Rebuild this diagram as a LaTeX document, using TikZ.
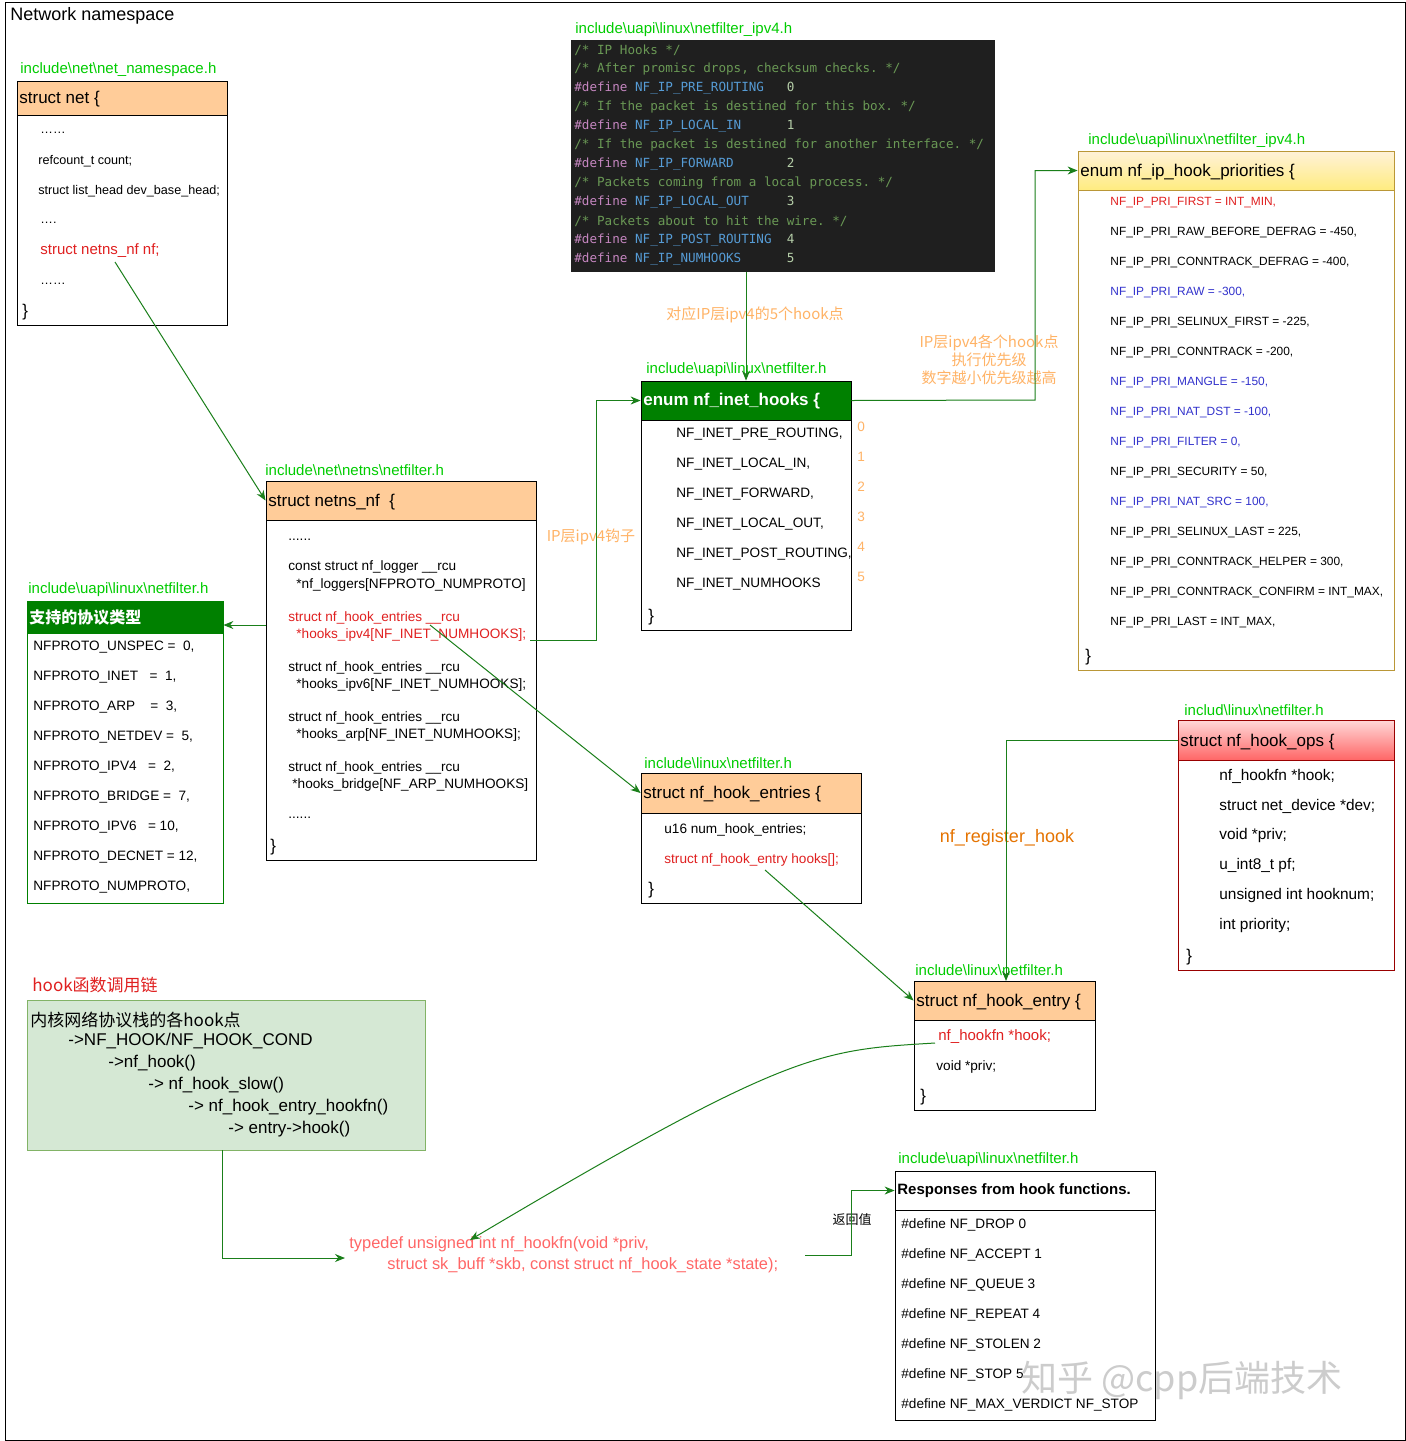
\documentclass[tikz,border=0pt]{standalone}
\usepackage{fontspec}
\setmainfont{Liberation Sans}
\setmonofont{DejaVu Sans Mono}
\newfontfamily\cjk{Noto Sans CJK SC}
\usetikzlibrary{fit,arrows.meta}
\definecolor{lbl}{HTML}{00CC00}
\definecolor{hdr}{HTML}{FFCC99}
\definecolor{gr}{HTML}{008000}
\definecolor{ln}{HTML}{1A7F1A}
\definecolor{org}{HTML}{FFB366}
\definecolor{rd}{HTML}{E02020}
\definecolor{bl}{HTML}{3333CC}
\definecolor{cmt}{HTML}{6A9955}
\definecolor{dfn}{HTML}{C586C0}
\definecolor{nm}{HTML}{569CD6}
\definecolor{num}{HTML}{B5CEA8}
\definecolor{chainfill}{HTML}{D5E8D4}
\definecolor{chainline}{HTML}{82B366}
\newcommand\bx[6]{\path (#2,#3) coordinate (#1a) (#4,#5) coordinate (#1b); \node[fit=(#1a)(#1b),inner sep=0pt,#6] (#1) {};}
\tikzset{
 lab/.style={anchor=west,inner sep=0pt,text=lbl,font=\fontsize{7.5}{8}\selectfont},
 t/.style={anchor=west,inner sep=0pt,font=\fontsize{6.8}{7}\selectfont},
 ht/.style={anchor=west,inner sep=0pt,font=\fontsize{8.5}{9}\selectfont},
 cd/.style={anchor=west,inner sep=0pt,font=\ttfamily\fontsize{6.3}{6.5}\selectfont},
 conn/.style={draw=ln,-{Stealth[length=5pt,width=4pt]},line width=0.5pt},
 bodybox/.style={draw,fill=white,line width=0.5pt},
}
\begin{document}
\begin{tikzpicture}[x=0.5pt,y=-0.5pt]
\useasboundingbox (0,0) rectangle (1406,1441);
\fill[white] (0,0) rectangle (1406,1441);
\draw[line width=0.5pt] (5,2) rectangle (1405,1440);
\node[anchor=west,inner sep=0pt,font=\fontsize{9}{10}\selectfont] (title) at (10,16) {Network namespace};

% struct net
\node[lab] (l1) at (20,70) {include\textbackslash net\textbackslash net\_namespace.h};
\bx{netb}{17}{115}{227}{325}{bodybox}
\bx{neth}{17}{81}{227}{115}{draw,fill=hdr,line width=0.5pt}
\node[ht] (neth t) at (19,99) {struct net \{};
\node[t,font=\fontsize{6.3}{7}\selectfont] (n1) at (40,133) {……};
\node[t,font=\fontsize{6.3}{7}\selectfont] (n2) at (38,161) {refcount\_t count;};
\node[t,font=\fontsize{6.3}{7}\selectfont] (n3) at (38,191) {struct list\_head dev\_base\_head;};
\node[t,font=\fontsize{6.3}{7}\selectfont] (n4) at (40,223) {….};
\node[t,text=rd,font=\fontsize{7.5}{8}\selectfont] (n5) at (40,251) {struct netns\_nf nf;};
\node[t,font=\fontsize{6.3}{7}\selectfont] (n6) at (40,284) {……};
\node[ht] (n7) at (22,312) {\}};

% netns_nf
\node[lab] (l2) at (265,470) {include\textbackslash net\textbackslash netns\textbackslash netfilter.h};
\bx{nnb}{266}{520}{536}{860}{bodybox}
\bx{nnh}{266}{481}{536}{520}{draw,fill=hdr,line width=0.5pt}
\node[ht] (nnh t) at (268,502) {struct netns\_nf \ \{};
\node[t] (m1) at (288,540) {......};
\node[t] (m2) at (288,567) {const struct nf\_logger \_\_rcu};
\node[t] (m3) at (296,585) {*nf\_loggers[NFPROTO\_NUMPROTO]};
\node[t,text=rd] (m4) at (288,618) {struct nf\_hook\_entries \_\_rcu};
\node[t,text=rd] (m5) at (296,635) {*hooks\_ipv4[NF\_INET\_NUMHOOKS];};
\node[t] (m6) at (288,668) {struct nf\_hook\_entries \_\_rcu};
\node[t] (m7) at (296,685) {*hooks\_ipv6[NF\_INET\_NUMHOOKS];};
\node[t] (m8) at (288,718) {struct nf\_hook\_entries \_\_rcu};
\node[t] (m9) at (296,735) {*hooks\_arp[NF\_INET\_NUMHOOKS];};
\node[t] (m10) at (288,768) {struct nf\_hook\_entries \_\_rcu};
\node[t] (m11) at (292,785) {*hooks\_bridge[NF\_ARP\_NUMHOOKS]};
\node[t] (m12) at (288,818) {......};
\node[ht] (m13) at (270,847) {\}};

% protocols
\node[lab] (l3) at (28,590) {include\textbackslash uapi\textbackslash linux\textbackslash netfilter.h};
\bx{pb}{27}{633}{223}{903}{bodybox,draw=gr}
\bx{ph}{27}{601}{223}{633}{draw=gr,fill=gr}
\node[ht,text=white,font=\cjk\bfseries\fontsize{8}{9}\selectfont] (ph t) at (29,618) {支持的协议类型};
\foreach \s [count=\i] in {{NFPROTO\_UNSPEC = \ 0,},{NFPROTO\_INET \ \ = \ 1,},{NFPROTO\_ARP \ \ \ = \ 3,},{NFPROTO\_NETDEV = \ 5,},{NFPROTO\_IPV4 \ \ = \ 2,},{NFPROTO\_BRIDGE = \ 7,},{NFPROTO\_IPV6 \ \ = 10,},{NFPROTO\_DECNET = 12,},{NFPROTO\_NUMPROTO,}}
  \node[t] (p\i) at (33,617+30*\i) {\s};

% code block
\node[lab] (l4) at (575,30) {include\textbackslash uapi\textbackslash linux\textbackslash netfilter\_ipv4.h};
\bx{code}{571}{40}{995}{272}{fill=black!88}
\node[cd,text=cmt] (c1) at (574,50) {/* IP Hooks */};
\node[cd,text=cmt] (c2) at (574,69) {/* After promisc drops, checksum checks. */};
\node[cd] (c3) at (574,88) {\textcolor{dfn}{\#define} \textcolor{nm}{NF\_IP\_PRE\_ROUTING} \ \ \textcolor{num}{0}};
\node[cd,text=cmt] (c4) at (574,107) {/* If the packet is destined for this box. */};
\node[cd] (c5) at (574,126) {\textcolor{dfn}{\#define} \textcolor{nm}{NF\_IP\_LOCAL\_IN} \ \ \ \ \ \textcolor{num}{1}};
\node[cd,text=cmt] (c6) at (574,145) {/* If the packet is destined for another interface. */};
\node[cd] (c7) at (574,164) {\textcolor{dfn}{\#define} \textcolor{nm}{NF\_IP\_FORWARD} \ \ \ \ \ \ \textcolor{num}{2}};
\node[cd,text=cmt] (c8) at (574,183) {/* Packets coming from a local process. */};
\node[cd] (c9) at (574,202) {\textcolor{dfn}{\#define} \textcolor{nm}{NF\_IP\_LOCAL\_OUT} \ \ \ \ \textcolor{num}{3}};
\node[cd,text=cmt] (c10) at (574,221) {/* Packets about to hit the wire. */};
\node[cd] (c11) at (574,240) {\textcolor{dfn}{\#define} \textcolor{nm}{NF\_IP\_POST\_ROUTING} \ \textcolor{num}{4}};
\node[cd] (c12) at (574,259) {\textcolor{dfn}{\#define} \textcolor{nm}{NF\_IP\_NUMHOOKS} \ \ \ \ \ \textcolor{num}{5}};

\node[inner sep=0pt,text=org,font=\cjk\fontsize{7.5}{8}\selectfont] (a1) at (755,315) {对应IP层ipv4的5个hook点};

% nf_inet_hooks
\node[lab] (l5) at (646,370) {include\textbackslash uapi\textbackslash linux\textbackslash netfilter.h};
\bx{ib}{641}{420}{851}{630}{bodybox}
\bx{ih}{641}{381}{851}{420}{draw,fill=gr}
\node[ht,text=white,font=\bfseries\fontsize{8.5}{9}\selectfont] (ih t) at (643,401) {enum nf\_inet\_hooks \{};
\foreach \s [count=\i] in {{NF\_INET\_PRE\_ROUTING,},{NF\_INET\_LOCAL\_IN,},{NF\_INET\_FORWARD,},{NF\_INET\_LOCAL\_OUT,},{NF\_INET\_POST\_ROUTING,},NF\_INET\_NUMHOOKS}
  \node[t] (i\i) at (676,404+30*\i) {\s};
\foreach \i in {0,...,5}
  \node[t,text=org] (in\i) at (857,427+30*\i) {\i};
\node[ht] (ie) at (648,617) {\}};

\node[inner sep=0pt,text=org,font=\cjk\fontsize{7.5}{8}\selectfont] (a2) at (591,537) {IP层ipv4钩子};

% priorities
\node[lab] (l6) at (1088,141) {include\textbackslash uapi\textbackslash linux\textbackslash netfilter\_ipv4.h};
\bx{prb}{1078}{190}{1394}{670}{bodybox,draw=yellow!50!orange!70!black}
\bx{prh}{1078}{151}{1394}{190}{draw=yellow!50!orange!70!black,top color=yellow!30!orange!15,bottom color=yellow!70!orange!50}
\node[ht] (prh t) at (1080,172) {enum nf\_ip\_hook\_priorities \{};
\foreach \s/\c [count=\i] in {{NF\_IP\_PRI\_FIRST = INT\_MIN,}/rd,{NF\_IP\_PRI\_RAW\_BEFORE\_DEFRAG = -450,}/black,{NF\_IP\_PRI\_CONNTRACK\_DEFRAG = -400,}/black,{NF\_IP\_PRI\_RAW = -300,}/bl,{NF\_IP\_PRI\_SELINUX\_FIRST = -225,}/black,{NF\_IP\_PRI\_CONNTRACK = -200,}/black,{NF\_IP\_PRI\_MANGLE = -150,}/bl,{NF\_IP\_PRI\_NAT\_DST = -100,}/bl,{NF\_IP\_PRI\_FILTER = 0,}/bl,{NF\_IP\_PRI\_SECURITY = 50,}/black,{NF\_IP\_PRI\_NAT\_SRC = 100,}/bl,{NF\_IP\_PRI\_SELINUX\_LAST = 225,}/black,{NF\_IP\_PRI\_CONNTRACK\_HELPER = 300,}/black,{NF\_IP\_PRI\_CONNTRACK\_CONFIRM = INT\_MAX,}/black,{NF\_IP\_PRI\_LAST = INT\_MAX,}/black}
  \node[t,text=\c,font=\fontsize{5.95}{6}\selectfont] (pr\i) at (1110,173+30*\i) {\s};
\node[ht] (pre) at (1085,657) {\}};

\node[align=center,inner sep=0pt,text=org,font=\cjk\fontsize{7.5}{9}\selectfont] (a3) at (989,360) {IP层ipv4各个hook点\\执行优先级\\数字越小优先级越高};

% nf_hook_entries
\node[lab] (l7) at (644,763) {include\textbackslash linux\textbackslash netfilter.h};
\bx{eb}{641}{813}{861}{903}{bodybox}
\bx{eh}{641}{773}{861}{813}{draw,fill=hdr}
\node[ht] (eh t) at (643,794) {struct nf\_hook\_entries \{};
\node[t] (e1) at (664,830) {u16 num\_hook\_entries;};
\node[t,text=rd] (e2) at (664,860) {struct nf\_hook\_entry hooks[];};
\node[ht] (e3) at (648,890) {\}};

% nf_hook_ops
\node[lab] (l8) at (1184,710) {includ\textbackslash linux\textbackslash netfilter.h};
\bx{ob}{1178}{760}{1394}{970}{bodybox,draw=red!60!black}
\bx{oh}{1178}{720}{1394}{760}{draw=red!60!black,top color=red!15,bottom color=red!60!white}
\node[ht] (oh t) at (1180,742) {struct nf\_hook\_ops \{};
\foreach \s [count=\i] in {nf\_hookfn *hook;,struct net\_device *dev;,void *priv;,u\_int8\_t pf;,unsigned int hooknum;,int priority;}
  \node[t,font=\fontsize{7.7}{8}\selectfont] (o\i) at (1219,746+30*\i) {\s};
\node[ht] (oe) at (1186,957) {\}};

\node[inner sep=0pt,text=orange!90!black,font=\fontsize{9}{10}\selectfont] (a4) at (1007,838) {nf\_register\_hook};

% nf_hook_entry
\node[lab] (l9) at (915,970) {include\textbackslash linux\textbackslash netfilter.h};
\bx{yb}{914}{1020}{1095}{1110}{bodybox}
\bx{yh}{914}{981}{1095}{1020}{draw,fill=hdr}
\node[ht] (yh t) at (916,1002) {struct nf\_hook\_entry \{};
\node[t,text=rd,font=\fontsize{7.5}{8}\selectfont] (y1) at (938,1037) {nf\_hookfn *hook;};
\node[t] (y2) at (936,1067) {void *priv;};
\node[ht] (y3) at (920,1097) {\}};

% hook chain
\node[anchor=west,inner sep=0pt,text=rd,font=\cjk\fontsize{8.5}{9}\selectfont] (l10) at (32,985) {hook函数调用链};
\bx{chain}{27}{1000}{425}{1150}{draw=chainline,fill=chainfill}
\node[ht,font=\cjk\fontsize{8.5}{9}\selectfont] (k1) at (30,1020) {内核网络协议栈的各hook点};
\node[ht] (k2) at (68,1041) {->NF\_HOOK/NF\_HOOK\_COND};
\node[ht] (k3) at (108,1063) {->nf\_hook()};
\node[ht] (k4) at (148,1085) {-> nf\_hook\_slow()};
\node[ht] (k5) at (188,1107) {-> nf\_hook\_entry\_hookfn()};
\node[ht] (k6) at (228,1129) {-> entry->hook()};

% typedef
\node[anchor=north west,inner sep=0pt,align=left,text=red!60!white,font=\fontsize{8.2}{10.5}\selectfont] (td) at (349,1236) {typedef unsigned int nf\_hookfn(void *priv,\\\hspace{19pt}struct sk\_buff *skb, const struct nf\_hook\_state *state);};
\coordinate (tdl) at (345,1258);
\coordinate (tdr) at (805,1255);
\coordinate (tdt) at (470,1240);

% responses
\node[lab] (l11) at (898,1160) {include\textbackslash uapi\textbackslash linux\textbackslash netfilter.h};
\bx{rb}{895}{1210}{1155}{1420}{bodybox}
\bx{rh}{895}{1171}{1155}{1210}{draw,fill=white}
\node[ht,font=\bfseries\fontsize{7.5}{8}\selectfont] (rh t) at (897,1191) {Responses from hook functions.};
\foreach \s [count=\i] in {\#define NF\_DROP 0,\#define NF\_ACCEPT 1,\#define NF\_QUEUE 3,\#define NF\_REPEAT 4,\#define NF\_STOLEN 2,\#define NF\_STOP 5,\#define NF\_MAX\_VERDICT NF\_STOP}
  \node[t] (r\i) at (901,1195+30*\i) {\s};
\node[inner sep=0pt,font=\cjk\fontsize{6.5}{7}\selectfont] (a5) at (852,1220) {返回值};

\node[inner sep=0pt,text=gray!40,font=\cjk\fontsize{18}{20}\selectfont] (wm) at (1182,1380) {知乎 @cpp后端技术};

% connectors
\coordinate (s1) at (115,262);
\draw[conn] (s1) -- (nnh.west);
\coordinate (s2) at (530,640);
\draw[conn] (s2) -- (596,640) |- (ih.west);
\draw[conn] (266,625) -- (ph.east |- 0,625);
\coordinate (s3) at (430,625);
\draw[conn] (s3) -- (eh.west);
\draw[conn] (code.south -| 746,0) -- (ih.north -| 746,0);
\draw[conn] (ih.east) -- (1035,400) |- (prh.west);
\draw[conn] (oh.west) -| (1006,981);
\coordinate (s4) at (765,870);
\draw[conn] (s4) -- (yh.west);
\coordinate (s5) at (935,1043);
\draw[conn] (s5) .. controls (820,1050) and (790,1050) .. (tdt);
\draw[conn] (chain.south -| 222,0) |- (tdl);
\draw[conn] (tdr) -- (851,1255) |- (rh.west);
\end{tikzpicture}
\end{document}
